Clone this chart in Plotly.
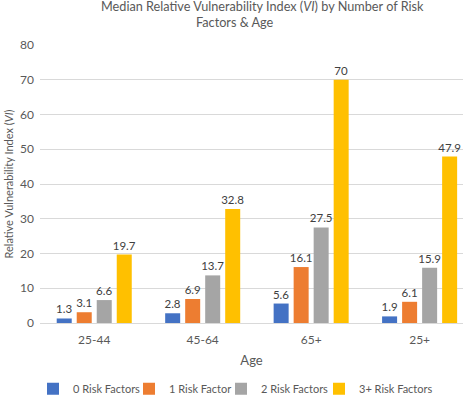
import plotly.graph_objects as go

categories = ["25-44", "45-64", "65+", "25+"]
series_names = ["0 Risk Factors", "1 Risk Factor", "2 Risk Factors", "3+ Risk Factors"]
values_0 = [1.3, 2.8, 5.6, 1.9]
values_1 = [3.1, 6.9, 16.1, 6.1]
values_2 = [6.6, 13.7, 27.5, 15.9]
values_3 = [19.7, 32.8, 70, 47.9]
y_ticks = [0, 10, 20, 30, 40, 50, 60, 70, 80]

colors = ["#4472C4", "#ED7D31", "#A5A5A5", "#FFC000"]
FONT = "Lato"
TXT = "#595959"
legend_ids = ["legend", "legend2", "legend3", "legend4"]
legend_left_px = [33, 129, 221, 319]

fig = go.Figure()
for name, vals, col, lid in zip(series_names, [values_0, values_1, values_2, values_3], colors, legend_ids):
    fig.add_trace(go.Bar(
        x=categories, y=vals, name=name, marker_color=col, marker_line_width=0,
        text=[f"{v:g}" for v in vals], textposition="outside", cliponaxis=False,
        constraintext="none", legend=lid,
        textfont=dict(family=FONT, size=11.5, color="#404040"),
    ))

legend_common = dict(orientation="h", xanchor="left", xref="container",
                     y=0.018, yanchor="middle", yref="container",
                     font=dict(family=FONT, size=11, color=TXT),
                     itemwidth=30, bgcolor="rgba(0,0,0,0)")
fig.update_layout(
    width=474, height=396,
    margin=dict(l=40, r=11, t=45, b=73, autoexpand=False),
    paper_bgcolor="white", plot_bgcolor="white",
    barmode="group", bargap=0.262, bargroupgap=0.25,
    font=dict(family=FONT, size=12, color=TXT),
    showlegend=True,
    hovermode=False,
)
for lid, lx in zip(legend_ids, legend_left_px):
    fig.update_layout({lid: dict(x=lx / 474, **legend_common)})

fig.update_xaxes(
    type="category", range=[-0.5, 3.4], automargin=False,
    title=dict(text="Age", font=dict(family=FONT, size=13, color=TXT), standoff=9),
    tickfont=dict(family=FONT, size=12, color=TXT), ticklabelstandoff=6,
    showline=True, linecolor="#D9D9D9", linewidth=1, ticks="", showgrid=False,
)
fig.update_yaxes(
    range=[0, 80], tickvals=y_ticks, automargin=False,
    title=dict(text="Relative Vulnerability Index (<i>VI</i>)", font=dict(family=FONT, size=11, color=TXT), standoff=4),
    tickfont=dict(family=FONT, size=12, color=TXT), ticklabelstandoff=5,
    showgrid=True, gridcolor="#D9D9D9", gridwidth=1, zeroline=False, ticks="",
)
fig.add_annotation(text="Median Relative Vulnerability Index (<i>VI</i>) by Number of Risk",
                   xref="paper", yref="paper", x=(262 - 40) / 423, y=1, yshift=39,
                   xanchor="center", yanchor="middle", showarrow=False,
                   font=dict(family=FONT, size=12.7, color=TXT))
fig.add_annotation(text="Factors & Age",
                   xref="paper", yref="paper", x=(235 - 40) / 423, y=1, yshift=23,
                   xanchor="center", yanchor="middle", showarrow=False,
                   font=dict(family=FONT, size=12.7, color=TXT))

fig.write_html("out.html", config={"displayModeBar": False},
               post_script="document.body.style.margin='0';")
